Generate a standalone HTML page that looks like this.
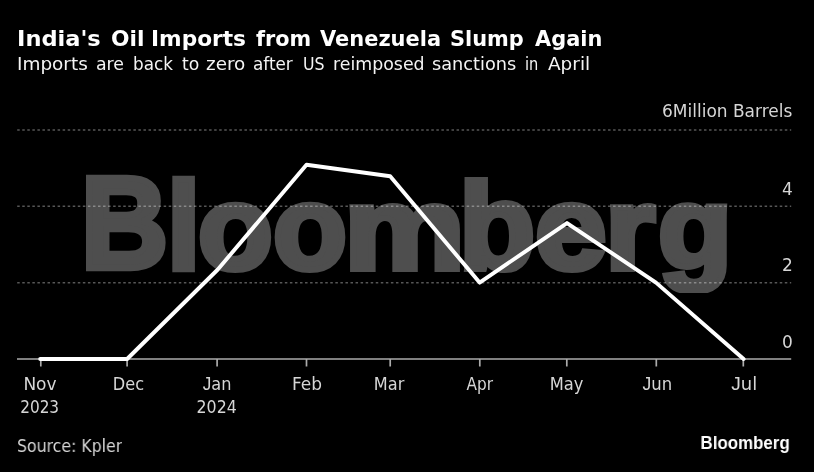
<!DOCTYPE html>
<html lang="en">
<head>
<meta charset="utf-8">
<title>India's Oil Imports from Venezuela Slump Again</title>
<style>
  html, body { margin: 0; padding: 0; background: #000; }
  body { width: 814px; height: 472px; overflow: hidden; position: relative;
         font-family: "DejaVu Sans", "Liberation Sans", sans-serif; color: #fff; }
  .abs { position: absolute; white-space: nowrap; line-height: 1; will-change: transform; }
  #title { top: 28.6px; font-size: 21px; font-weight: bold; color: #fff; }
  #sub { top: 55.6px; font-size: 17.6px; color: #f4f4f4; }
  #title span, #sub span { display: inline-block; transform-origin: 0 50%; white-space: pre; }
  .lbl { font-size: 17px; color: #d6d6d6; }
  .yl { right: 21.5px; text-align: right; transform-origin: 100% 50%; }
  .xl { text-align: center; width: 80px; margin-left: -40px; }
  .xl span { display: inline-block; transform-origin: 50% 50%; }
  .J { font-family: "Liberation Sans", sans-serif; font-style: normal; font-size: 18px; line-height: 0; }
  #src { left: 17px; top: 438px; font-size: 17px; color: #d6d6d6; transform-origin: 0 50%; transform: scaleX(0.925); }
  #logo { right: 24px; top: 434.3px; font-family: "Liberation Sans", sans-serif; font-weight: bold; font-size: 18.9px; color: #fff; transform-origin: 100% 50%; transform: scaleX(0.895); }
  #wm { font-family: "Liberation Sans", sans-serif; font-weight: bold; font-size: 128px; color: #4e4e4e; -webkit-text-stroke: 6.5px #4e4e4e; }
  #wm span { display: inline-block; transform-origin: 0 108.35px; }
  svg { position: absolute; left: 0; top: 0; }
</style>
</head>
<body>
<div id="wm" class="abs" style="left:81.29px;top:0;height:293.4px;overflow:hidden"><span style="width:86.08px;transform:translateY(160.41px) scale(0.9412,1.0149)">B</span><span style="width:31.21px;transform:translateY(160.54px) scale(0.9375,0.9636)">l</span><span style="width:74.52px;transform:translateY(160.89px) scale(0.9568,0.9316)">o</span><span style="width:71.08px;transform:translateY(160.89px) scale(0.9459,0.9316)">o</span><span style="width:115.45px;transform:translateY(160.78px) scale(1.0625,0.9120)">m</span><span style="width:76.15px;transform:translateY(160.71px) scale(0.9732,0.9550)">b</span><span style="width:69.98px;transform:translateY(160.89px) scale(1.0059,0.9316)">e</span><span style="width:52.34px;transform:translateY(160.76px) scale(1.0065,0.9200)">r</span><span style="width:90.00px;transform:translateY(159.47px) scale(0.9479,0.9050)">g</span></div>
<svg width="814" height="472" viewBox="0 0 814 472">
  <g stroke="#fff" stroke-opacity="0.34" stroke-width="1.6" stroke-dasharray="2.5 2.55" fill="none">
    <line x1="17.2" y1="130" x2="791.2" y2="130"/>
    <line x1="17.2" y1="206.3" x2="791.2" y2="206.3"/>
    <line x1="17.2" y1="282.8" x2="791.2" y2="282.8"/>
  </g>
  <g stroke="#ababab" stroke-width="1.7" fill="none">
    <line x1="17" y1="359" x2="791.2" y2="359"/>
    <line x1="40.8" y1="359" x2="40.8" y2="366.5"/>
    <line x1="127.1" y1="359" x2="127.1" y2="366.5"/>
    <line x1="217.1" y1="359" x2="217.1" y2="366.5"/>
    <line x1="306.5" y1="359" x2="306.5" y2="366.5"/>
    <line x1="390.2" y1="359" x2="390.2" y2="366.5"/>
    <line x1="479.8" y1="359" x2="479.8" y2="366.5"/>
    <line x1="566.8" y1="359" x2="566.8" y2="366.5"/>
    <line x1="656.3" y1="359" x2="656.3" y2="366.5"/>
    <line x1="743.3" y1="359" x2="743.3" y2="366.5"/>
  </g>
  <polyline fill="none" stroke="#fff" stroke-width="3.9" stroke-linejoin="round" stroke-linecap="round"
    points="40.2,359 127.1,359 217.8,269.5 306.5,164.7 390.2,176.2 479.6,282.6 567,223.1 656,282.6 743.6,359"/>
</svg>
<div class="abs lbl yl" style="top:102.7px">6Million Barrels</div>
<div class="abs lbl yl" style="top:180.8px">4</div>
<div class="abs lbl yl" style="top:257.2px">2</div>
<div class="abs lbl yl" style="top:334.4px">0</div>

<div class="abs lbl xl" style="left:40px;top:376.3px"><span>Nov</span></div>
<div class="abs lbl xl" style="left:40px;top:399.3px"><span style="transform:scaleX(0.9)">2023</span></div>
<div class="abs lbl xl" style="left:128px;top:376.3px"><span style="transform:scaleX(0.95)">Dec</span></div>
<div class="abs lbl xl" style="left:217px;top:376.3px"><span style="transform:scaleX(0.95)"><i class="J">J</i>an</span></div>
<div class="abs lbl xl" style="left:217.4px;top:399.3px"><span style="transform:scaleX(0.93)">2024</span></div>
<div class="abs lbl xl" style="left:306.5px;top:376.3px"><span>Feb</span></div>
<div class="abs lbl xl" style="left:389.4px;top:376.3px"><span style="transform:scaleX(0.95)">Mar</span></div>
<div class="abs lbl xl" style="left:479.7px;top:376.3px"><span style="transform:scaleX(0.9)">Apr</span></div>
<div class="abs lbl xl" style="left:566.8px;top:376.3px"><span style="transform:scaleX(0.96)">May</span></div>
<div class="abs lbl xl" style="left:657px;top:376.3px"><span style="transform:scaleX(0.97)"><i class="J">J</i>un</span></div>
<div class="abs lbl xl" style="left:744.3px;top:376.3px"><span style="transform:scaleX(1.06)"><i class="J">J</i>ul</span></div>

<div id="title" class="abs" style="left:16.66px"><span style="width:93.81px;transform:scaleX(1.0724)">India's </span><span style="width:40.47px;transform:scaleX(1.0373)">Oil </span><span style="width:104.62px;transform:scaleX(1.0315)">Imports </span><span style="width:64.20px;transform:scaleX(0.9889)">from </span><span style="width:130.16px;transform:scaleX(0.9975)">Venezuela </span><span style="width:84.49px;transform:scaleX(0.9951)">Slump </span><span style="width:120.00px;transform:scaleX(0.9955)">Again</span></div>
<div id="sub" class="abs" style="left:16.97px"><span style="width:79.25px;transform:scaleX(1.0477)">Imports </span><span style="width:36.35px;transform:scaleX(0.9849)">are </span><span style="width:49.74px;transform:scaleX(0.9540)">back </span><span style="width:24.11px;transform:scaleX(0.9785)">to </span><span style="width:46.63px;transform:scaleX(1.0444)">zero </span><span style="width:50.31px;transform:scaleX(0.9546)">after </span><span style="width:29.47px;transform:scaleX(0.8977)">US </span><span style="width:99.07px;transform:scaleX(0.9872)">reimposed </span><span style="width:93.36px;transform:scaleX(1.0067)">sanctions </span><span style="width:22.58px;transform:scaleX(0.8308)">in </span><span style="width:120.00px;transform:scaleX(1.0484)">April</span></div>
<div id="src" class="abs">Source: Kpler</div>
<div id="logo" class="abs">Bloomberg</div>
</body>
</html>
